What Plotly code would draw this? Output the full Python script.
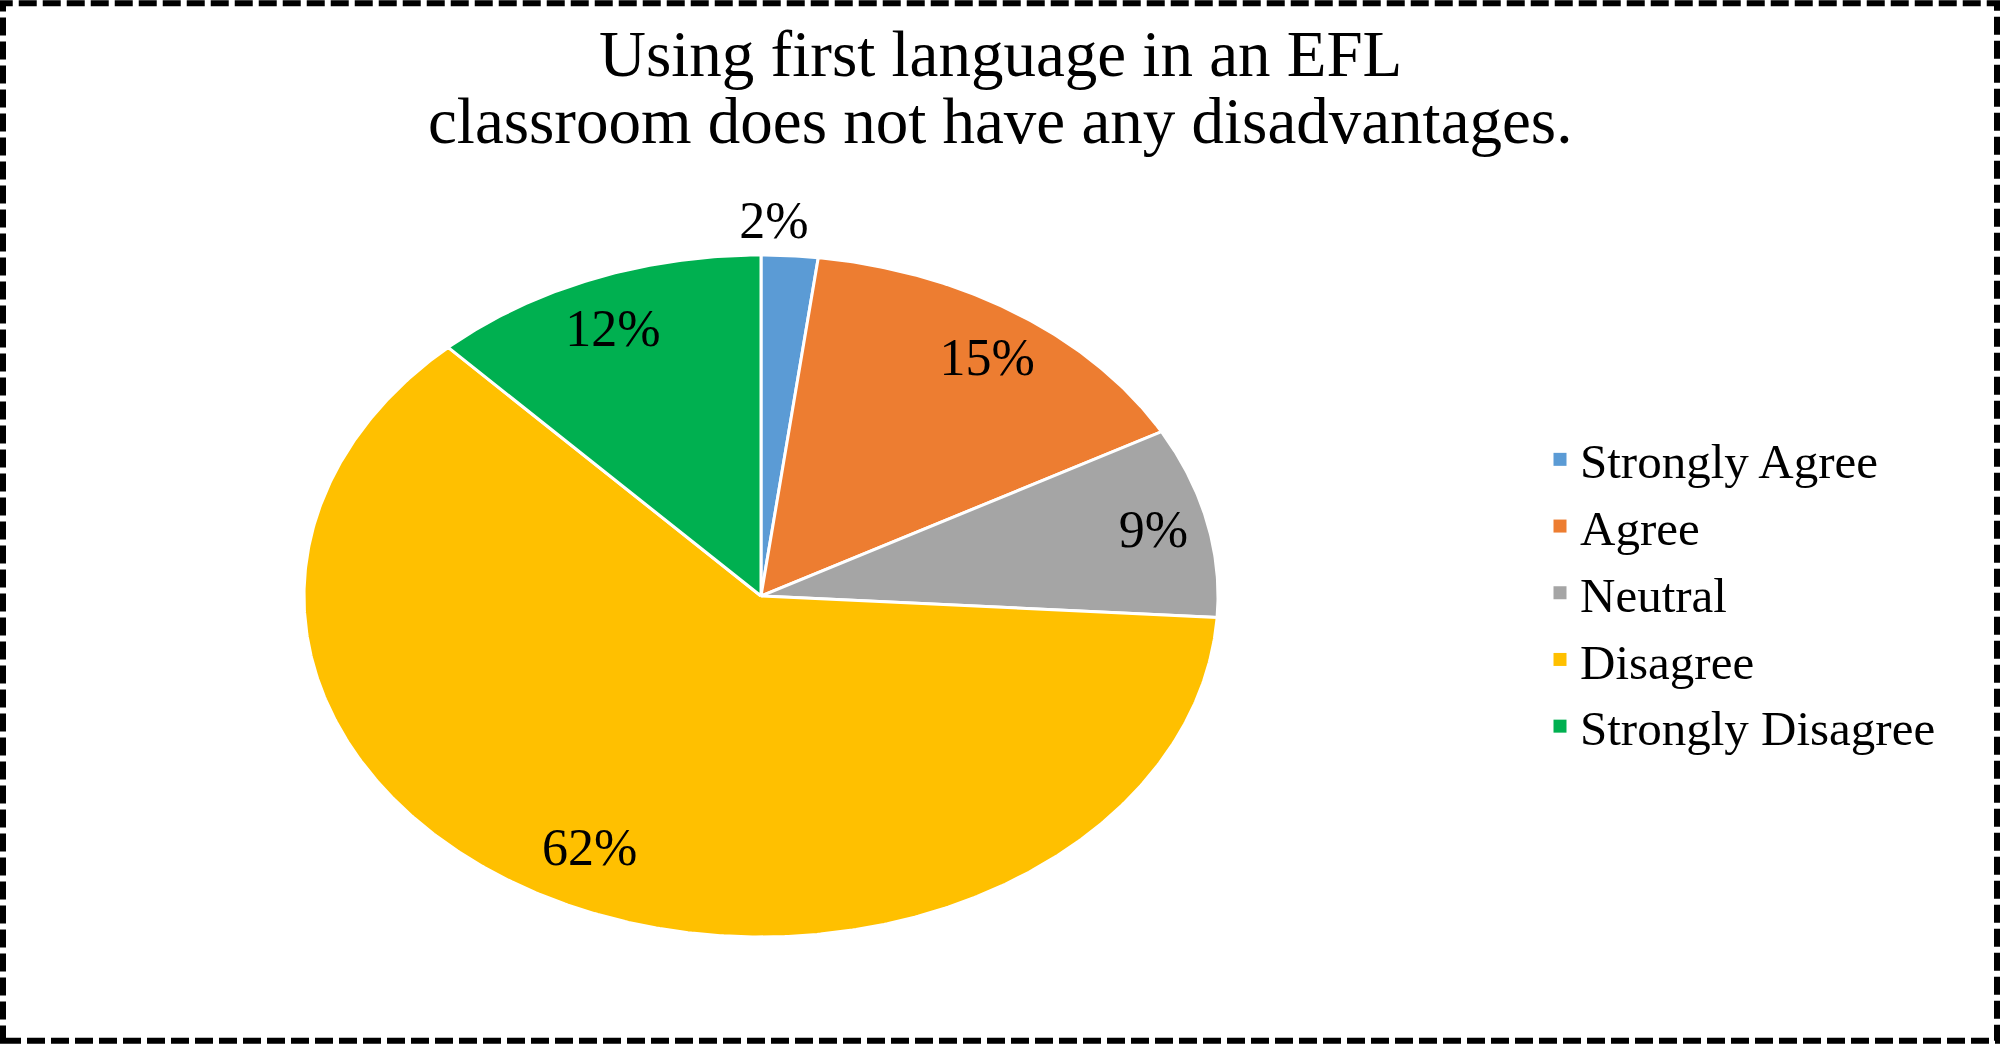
import numpy as np
import plotly.graph_objects as go

# survey answers, share of respondents (%)
categories = ['Strongly Agree', 'Agree', 'Neutral', 'Disagree', 'Strongly Disagree']
shares = [2, 15, 9, 62, 12]
colors = ['#5B9BD5', '#ED7D31', '#A5A5A5', '#FFC000', '#00B050']
title_lines = ['Using first language in an EFL',
               'classroom does not have any disadvantages.']

# the pie is an ellipse (stretched), so draw the slices as filled shapes
W, H = 2000, 1044
cx, cy = 761, 596      # centre in pixels from top-left
rx, ry = 457, 341      # half width / half height of the ellipse

fig = go.Figure()

total = sum(shares)
start = 0.0
for cat, val, col in zip(categories, shares, colors):
    a0 = start / total * 2 * np.pi
    a1 = (start + val) / total * 2 * np.pi
    n = max(4, int(val * 8))
    t = np.linspace(a0, a1, n)
    xs = np.concatenate([[cx], cx + rx * np.sin(t), [cx]])
    ys = np.concatenate([[cy], cy - ry * np.cos(t), [cy]])
    fig.add_trace(go.Scatter(x=xs, y=ys, mode='lines', fill='toself',
                             fillcolor=col, line=dict(color='white', width=3),
                             hoverinfo='skip', showlegend=False))

    # percentage label, small slices get it just outside the pie
    mid = (a0 + a1) / 2
    if val < 5:
        kx, ky = 0.45, 1.09
    else:
        kx, ky = 0.88, 0.83
    fig.add_trace(go.Scatter(x=[cx + kx * rx * np.sin(mid)], y=[cy - ky * ry * np.cos(mid)],
                             mode='text', text=[f'{val}%'],
                             textfont=dict(family='Liberation Serif', size=52, color='black'),
                             hoverinfo='skip', showlegend=False))
    start += val

# legend entries (small squares)
for cat, col in zip(categories, colors):
    fig.add_trace(go.Scatter(x=[None], y=[None], mode='markers', name=cat,
                             marker=dict(symbol='square', size=13, color=col)))

annotations = []
for i, line in enumerate(title_lines):
    annotations.append(dict(x=0.5, y=1 - (54 + 67 * i) / H, xref='paper', yref='paper',
                            text=line, showarrow=False, xanchor='center', yanchor='middle',
                            font=dict(family='Liberation Serif', size=65, color='black')))

fig.update_layout(
    width=W, height=H,
    margin=dict(l=0, r=0, t=0, b=0),
    paper_bgcolor='white', plot_bgcolor='white',
    xaxis=dict(range=[0, W], visible=False, fixedrange=True),
    yaxis=dict(range=[H, 0], visible=False, fixedrange=True),
    legend=dict(x=0.77, y=1 - 593 / H, xanchor='left', yanchor='middle',
                font=dict(family='Liberation Serif', size=49, color='black'),
                bgcolor='rgba(0,0,0,0)'),
    annotations=annotations,
    shapes=[dict(type='rect', xref='paper', yref='paper', x0=0.0015, x1=0.9985, y0=0.003, y1=0.997,
                 line=dict(color='black', width=6, dash='18px,6px'))],
)

# drop the default page margin so the 2000x1044 figure fills the window exactly
fig.write_html('out.html', config={'displayModeBar': False},
               post_script="document.body.style.margin='0';document.body.style.overflow='hidden';")
